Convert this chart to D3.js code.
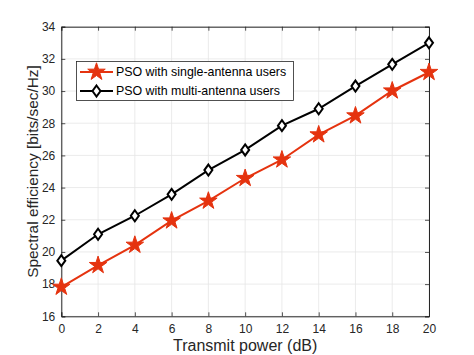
<!DOCTYPE html>
<html><head><meta charset="utf-8">
<script src="https://cdn.jsdelivr.net/npm/d3@7"></script>
<style>body{margin:0;background:#fff}svg{display:block}</style>
</head><body>
<svg id="c" width="474" height="355"></svg>
<script>
const xValues = [0,2,4,6,8,10,12,14,16,18,20];
const singleAntenna = [17.82,19.17,20.43,21.94,23.17,24.58,25.73,27.29,28.47,30.02,31.17];
const multiAntenna = [19.46,21.1,22.25,23.58,25.09,26.34,27.85,28.9,30.31,31.66,33.0];
const xTicks = [0,2,4,6,8,10,12,14,16,18,20];
const yTicks = [16,18,20,22,24,26,28,30,32,34];
const seriesNames = ["PSO with single-antenna users","PSO with multi-antenna users"];

const svg = d3.select("#c");
const L=61.3, R=429, T=26.7, B=316.3;
const x = d3.scaleLinear().domain([0,20]).range([L,R]);
const y = d3.scaleLinear().domain([16,34]).range([B,T]);
const axisCol="#262626", font="Liberation Sans, Arial, sans-serif";

// grid
const g = svg.append("g");
g.selectAll(".gx").data(xTicks).join("line").attr("x1",d=>x(d)).attr("x2",d=>x(d)).attr("y1",T).attr("y2",B).attr("stroke","#e6e6e6").attr("stroke-width",0.8);
g.selectAll(".gy").data(yTicks).join("line").attr("y1",d=>y(d)).attr("y2",d=>y(d)).attr("x1",L).attr("x2",R).attr("stroke","#e6e6e6").attr("stroke-width",0.8);

// axes
const xa = svg.append("g").attr("transform",`translate(0,${B})`).call(d3.axisBottom(x).tickValues(xTicks).tickSize(-4).tickPadding(8.3));
const xt = svg.append("g").attr("transform",`translate(0,${T})`).call(d3.axisTop(x).tickValues(xTicks).tickSize(-4).tickFormat(""));
const ya = svg.append("g").attr("transform",`translate(${L},0)`).call(d3.axisLeft(y).tickValues(yTicks).tickSize(-4).tickPadding(6));
const yr = svg.append("g").attr("transform",`translate(${R},0)`).call(d3.axisRight(y).tickValues(yTicks).tickSize(-4).tickFormat(""));
[xa,xt,ya,yr].forEach(a=>{
  a.select(".domain").attr("stroke",axisCol).attr("stroke-width",1);
  a.selectAll(".tick line").attr("stroke",axisCol).attr("stroke-width",0.8);
  a.selectAll("text").attr("fill",axisCol).attr("font-family",font).attr("font-size",12);
});

// lines
const red="#e5330f";
const line = d3.line().x((d,i)=>x(xValues[i])).y(d=>y(d));
svg.append("path").datum(singleAntenna).attr("d",line).attr("fill","none").attr("stroke",red).attr("stroke-width",2);
svg.append("path").datum(multiAntenna).attr("d",line).attr("fill","none").attr("stroke","#000").attr("stroke-width",2);

const star = d3.symbol().type(d3.symbolStar).size(95);
const diamond = "M0,-5.5L4,0L0,5.5L-4,0Z";
svg.selectAll(".s").data(singleAntenna).join("path").attr("d",star).attr("transform",(d,i)=>`translate(${x(xValues[i])},${y(d)})`).attr("fill",red).attr("stroke",red).attr("stroke-width",1);
svg.selectAll(".m").data(multiAntenna).join("path").attr("d",diamond).attr("transform",(d,i)=>`translate(${x(xValues[i])},${y(d)})`).attr("fill","#fff").attr("stroke","#000").attr("stroke-width",2);

// legend
const lg = svg.append("g");
lg.append("rect").attr("x",76.5).attr("y",61.5).attr("width",217).attr("height",39).attr("fill","#fff").attr("stroke",axisCol).attr("stroke-width",0.8);
const ly=[72,91];
lg.append("line").attr("x1",80).attr("x2",113).attr("y1",ly[0]).attr("y2",ly[0]).attr("stroke",red).attr("stroke-width",2);
lg.append("path").attr("d",star).attr("transform",`translate(96.5,${ly[0]})`).attr("fill",red).attr("stroke",red);
lg.append("line").attr("x1",80).attr("x2",113).attr("y1",ly[1]).attr("y2",ly[1]).attr("stroke","#000").attr("stroke-width",2);
lg.append("path").attr("d",diamond).attr("transform",`translate(96.5,${ly[1]})`).attr("fill","#fff").attr("stroke","#000").attr("stroke-width",2);
seriesNames.forEach((n,i)=>lg.append("text").attr("x",116).attr("y",ly[i]).attr("dy","0.35em").attr("font-family",font).attr("font-size",12.4).attr("fill","#000").text(n));

// axis titles
svg.append("text").attr("x",(L+R)/2).attr("y",351).attr("text-anchor","middle").attr("font-family",font).attr("font-size",16).attr("fill",axisCol).text("Transmit power (dB)");
svg.append("text").attr("transform",`translate(38,${(T+B)/2}) rotate(-90)`).attr("text-anchor","middle").attr("font-family",font).attr("font-size",15.4).attr("fill",axisCol).text("Spectral efficiency [bits/sec/Hz]");
</script>
</body></html>
